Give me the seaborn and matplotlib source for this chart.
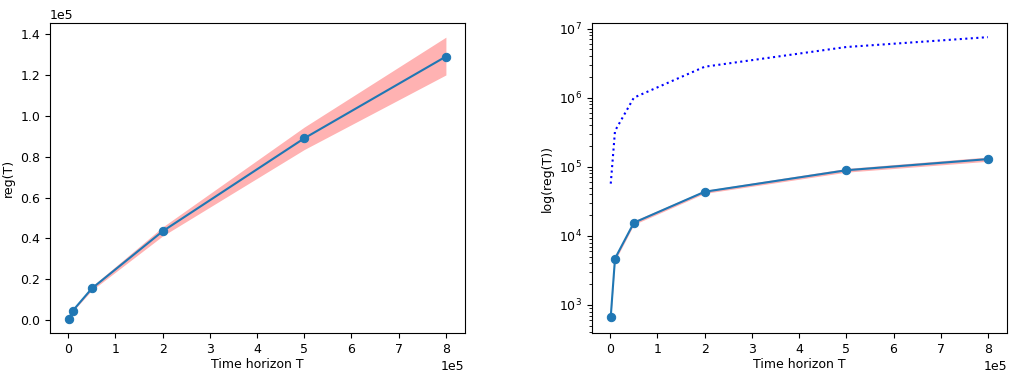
import numpy as np
import pandas as pd
import matplotlib
matplotlib.use("Agg")
import matplotlib.pyplot as plt
import seaborn as sns

plt.rcParams["font.size"] = 9

# time horizons and mean regret
horizons = [1000, 10000, 50000, 200000, 500000, 800000]
reg_mean = [680, 4700, 15500, 43500, 89000, 129000]
reg_low = [630, 4350, 14600, 41200, 83500, 120000]
reg_high = [730, 5050, 16500, 45600, 94500, 138500]
# reference bound (dotted)
bound = [57000, 330000, 1000000, 2800000, 5400000, 7500000]

df = pd.DataFrame({"T": horizons, "reg": reg_mean, "low": reg_low, "high": reg_high})

fig = plt.figure(figsize=(10.17, 3.72), dpi=100)
ax1 = fig.add_axes([0.049, 0.105, 0.408, 0.833])
ax2 = fig.add_axes([0.582, 0.105, 0.408, 0.833])

# left: linear scale
ax1.fill_between(df["T"], df["low"], df["high"], color="red", alpha=0.3, linewidth=0)
sns.lineplot(data=df, x="T", y="reg", marker="o", color="C0", markersize=6,
             markeredgecolor="C0", ax=ax1)
ax1.set_xlabel("Time horizon T", labelpad=2)
ax1.set_ylabel("reg(T)")
ax1.ticklabel_format(style="sci", axis="both", scilimits=(0, 0))

# right: log scale with bound
ax2.fill_between(df["T"], df["low"], df["high"], color="red", alpha=0.3, linewidth=0)
sns.lineplot(data=df, x="T", y="reg", marker="o", color="C0", markersize=6,
             markeredgecolor="C0", ax=ax2)
sns.lineplot(x=horizons, y=bound, color="blue", linestyle=":", linewidth=1.5, ax=ax2)
ax2.set_yscale("log")
ax2.set_xlabel("Time horizon T", labelpad=2)
ax2.set_ylabel("log(reg(T))")
ax2.ticklabel_format(style="sci", axis="x", scilimits=(0, 0))

fig.savefig("out.png", dpi=100)
